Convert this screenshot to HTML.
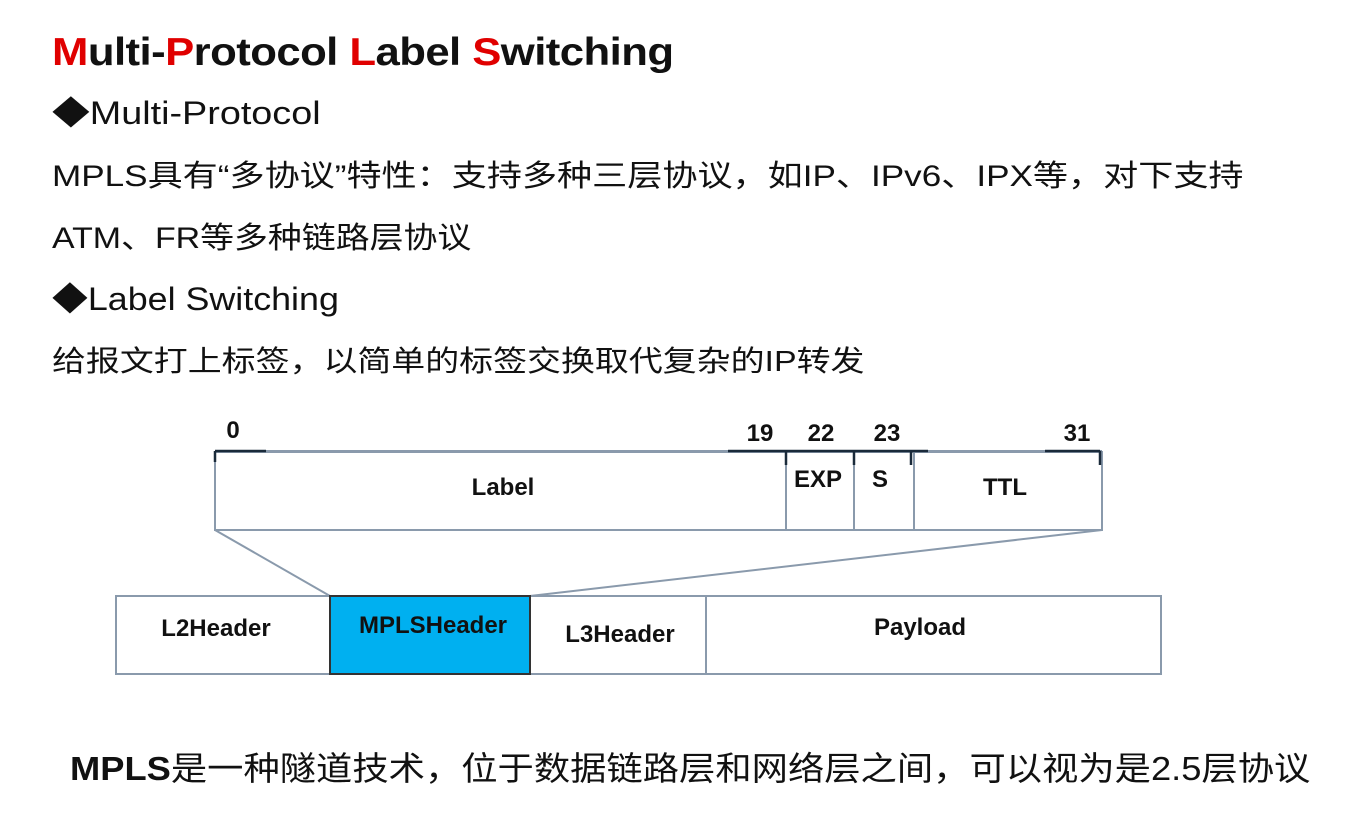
<!DOCTYPE html>
<html><head><meta charset="utf-8"><style>
body{margin:0;width:1347px;height:826px;background:#fff;position:relative;overflow:hidden;font-family:"Liberation Sans","Noto Sans CJK SC",sans-serif;color:#111}
.t{position:absolute;white-space:nowrap;left:52px;transform-origin:0 50%}
</style></head><body>
<div class="t" style="top:31px;font-size:39px;font-weight:bold;letter-spacing:-0.5px;transform:scaleX(1.12)"><span style="color:#e00000">M</span>ulti-<span style="color:#e00000">P</span>rotocol <span style="color:#e00000">L</span>abel <span style="color:#e00000">S</span>witching</div>
<div class="t" style="top:88px;font-size:32px;transform:scaleX(1.18)">◆Multi-Protocol</div>
<div class="t" style="top:151px;font-size:30px;transform:scaleX(1.17)">MPLS具有“多协议”特性：支持多种三层协议，如IP、IPv6、IPX等，对下支持</div>
<div class="t" style="top:213px;font-size:30px;transform:scaleX(1.13)">ATM、FR等多种链路层协议</div>
<div class="t" style="top:274px;font-size:32px;transform:scaleX(1.12)">◆Label Switching</div>
<div class="t" style="top:338px;font-size:29px;transform:scaleX(1.17)">给报文打上标签，以简单的标签交换取代复杂的IP转发</div>
<svg width="1347" height="826" style="position:absolute;left:0;top:0" font-family="Liberation Sans, sans-serif" font-weight="bold">
<g stroke="#8a9aac" stroke-width="2" fill="none">
<line x1="215" y1="451" x2="1102" y2="451"/>
<rect x="215" y="452" width="887" height="78" fill="#fff"/>
<line x1="786" y1="452" x2="786" y2="530"/><line x1="854" y1="452" x2="854" y2="530"/><line x1="914" y1="452" x2="914" y2="530"/>
<line x1="215" y1="530" x2="330" y2="596"/><line x1="1102" y1="530" x2="530" y2="596"/>
<rect x="116" y="596" width="1045" height="78" fill="#fff"/>
<line x1="706" y1="596" x2="706" y2="674"/>
</g>
<g stroke="#1a2a3a" stroke-width="2.5">
<line x1="215" y1="451" x2="266" y2="451"/><line x1="728" y1="451" x2="928" y2="451"/><line x1="1045" y1="451" x2="1100" y2="451"/>
<line x1="215" y1="451" x2="215" y2="462"/><line x1="1100" y1="451" x2="1100" y2="465"/>
<line x1="786" y1="451" x2="786" y2="465"/><line x1="854" y1="451" x2="854" y2="465"/><line x1="911" y1="451" x2="911" y2="465"/>
</g>
<rect x="330" y="596" width="200" height="78" fill="#00b0f0" stroke="#333" stroke-width="2"/>
<g font-size="24" fill="#111" text-anchor="middle">
<text x="233" y="438">0</text><text x="760" y="441">19</text><text x="821" y="441">22</text><text x="887" y="441">23</text><text x="1077" y="441">31</text>
<text x="503" y="495">Label</text><text x="818" y="487">EXP</text><text x="880" y="487">S</text><text x="1005" y="495">TTL</text>
<text x="216" y="636">L2Header</text><text x="433" y="633">MPLSHeader</text><text x="620" y="642">L3Header</text><text x="920" y="635">Payload</text>
</g>
</svg>
<div class="t" style="left:70px;top:742px;font-size:33px;font-weight:bold;transform:scaleX(1.10)">MPLS<span style="font-weight:normal">是一种隧道技术，位于数据链路层和网络层之间，可以视为是2.5层协议</span></div>
</body></html>
